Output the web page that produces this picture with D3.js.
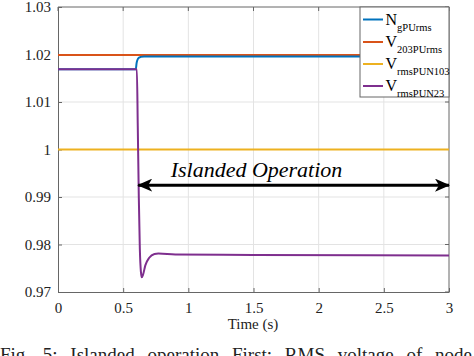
<!DOCTYPE html>
<html><head><meta charset="utf-8">
<script src="https://cdn.jsdelivr.net/npm/d3@7"></script>
<style>body{margin:0;background:#fff;}svg{display:block;}svg text{font-family:"Times New Roman","Liberation Serif","DejaVu Serif",serif !important;}</style>
</head><body>
<svg id="c" width="474" height="356"></svg>
<script>
const xTicks = [0, 0.5, 1, 1.5, 2, 2.5, 3];
const xTickLabels = ["0", "0.5", "1", "1.5", "2", "2.5", "3"];
const yTicks = [0.97, 0.98, 0.99, 1, 1.01, 1.02, 1.03];
const yTickLabels = ["0.97", "0.98", "0.99", "1", "1.01", "1.02", "1.03"];

const seriesNames = ["N", "V", "V", "V"];
const seriesSubs = ["gPUrms", "203PUrms", "rmsPUN103", "rmsPUN23"];
const seriesColors = ["#0072BD", "#D95319", "#EDB120", "#7E2F8E"];

const tN = [0, 0.597, 0.603, 0.61, 0.62, 0.635, 0.66, 0.7, 1.0, 3];
const vN = [1.0169, 1.0169, 1.0182, 1.0189, 1.0193, 1.0195, 1.0196, 1.0196, 1.0196, 1.0196];
const tV203 = [0, 3];
const vV203 = [1.0199, 1.0199];
const tN103 = [0, 3];
const vN103 = [1.0, 1.0];
const tN23 = [0, 0.605, 0.612, 0.62, 0.628, 0.636, 0.643, 0.652, 0.67, 0.7, 0.74, 0.77, 0.9, 1.5, 3];
const vN23 = [1.0169, 1.0169, 1.005, 0.99, 0.979, 0.9743, 0.9731, 0.9736, 0.9756, 0.9772, 0.978, 0.9781, 0.9779, 0.9778, 0.9777];

const arrowStart = 0.615, arrowEnd = 3, arrowLevel = 0.9925;
const annotation = "Islanded Operation";
const xLabel = "Time (s)";
const caption = "Fig. 5: Islanded operation First: RMS voltage of node s";

const FONT = '"Times New Roman","Liberation Serif","DejaVu Serif",serif';
const svg = d3.select("#c").attr("font-family", FONT);
const L = 58, R = 449, T = 7, B = 292;
const x = d3.scaleLinear().domain([0, 3]).range([L, R]);
const y = d3.scaleLinear().domain([0.97, 1.03]).range([B, T]);

// grid
const g = svg.append("g");
g.selectAll(".gx").data(xTicks.slice(1, -1)).join("line")
  .attr("x1", d => x(d)).attr("x2", d => x(d)).attr("y1", T).attr("y2", B)
  .attr("stroke", "#e3e3e3").attr("stroke-width", 1);
g.selectAll(".gy").data(yTicks.slice(1, -1)).join("line")
  .attr("y1", d => y(d)).attr("y2", d => y(d)).attr("x1", L).attr("x2", R)
  .attr("stroke", "#e3e3e3").attr("stroke-width", 1);

// axes
const xAxis = d3.axisBottom(x).tickValues(xTicks).tickFormat((d, i) => xTickLabels[i]).tickSizeInner(-4).tickSizeOuter(0).tickPadding(10);
const yAxis = d3.axisLeft(y).tickValues(yTicks).tickFormat((d, i) => yTickLabels[i]).tickSizeInner(-4).tickSizeOuter(0).tickPadding(7);
const gx = svg.append("g").attr("transform", `translate(0,${B})`).call(xAxis);
const gy = svg.append("g").attr("transform", `translate(${L},0)`).call(yAxis);
[gx, gy].forEach(a => {
  a.attr("font-family", FONT).attr("font-size", 15);
  a.selectAll("text").attr("fill", "#222");
  a.selectAll("line").attr("stroke", "#666");
  a.select(".domain").attr("stroke", "#666");
});
// top/right box
svg.append("line").attr("x1", L).attr("x2", R).attr("y1", T).attr("y2", T).attr("stroke", "#666");
svg.append("line").attr("x1", R).attr("x2", R).attr("y1", T).attr("y2", B).attr("stroke", "#666");
svg.append("g").selectAll("line").data(xTicks).join("line")
  .attr("x1", d => x(d)).attr("x2", d => x(d)).attr("y1", T).attr("y2", T + 4).attr("stroke", "#666");
svg.append("g").selectAll("line").data(yTicks).join("line")
  .attr("y1", d => y(d)).attr("y2", d => y(d)).attr("x1", R).attr("x2", R - 4).attr("stroke", "#666");

// lines
const line = d3.line().x(d => x(d[0])).y(d => y(d[1])).curve(d3.curveMonotoneX);
const series = [[tN, vN], [tV203, vV203], [tN103, vN103], [tN23, vN23]];
const drawOrder = [2, 1, 0, 3];
drawOrder.forEach(i => {
  const [t, v] = series[i];
  svg.append("path").datum(t.map((tt, k) => [tt, v[k]]))
    .attr("d", line).attr("fill", "none").attr("stroke", seriesColors[i]).attr("stroke-width", 2);
});

// arrow
const defs = svg.append("defs");
defs.append("marker").attr("id", "ah").attr("viewBox", "0 0 15 13").attr("refX", 14).attr("refY", 6.5)
  .attr("markerWidth", 15).attr("markerHeight", 13).attr("markerUnits", "userSpaceOnUse").attr("orient", "auto-start-reverse")
  .append("path").attr("d", "M0,0 L15,6.5 L0,13 L4,6.5 Z").attr("fill", "#000");
svg.append("line").attr("x1", x(arrowStart)).attr("x2", x(arrowEnd)).attr("y1", y(arrowLevel)).attr("y2", y(arrowLevel))
  .attr("stroke", "#000").attr("stroke-width", 3)
  .attr("marker-start", "url(#ah)").attr("marker-end", "url(#ah)");
svg.append("text").attr("x", 256.5).attr("y", 177).attr("text-anchor", "middle")
  .attr("font-size", 22).attr("font-style", "italic").attr("fill", "#000").text(annotation);

// legend
const lg = svg.append("g");
lg.append("rect").attr("x", 360).attr("y", T).attr("width", R - 360).attr("height", 90)
  .attr("fill", "#fff").attr("stroke", "#666").attr("stroke-width", 1);
const ly = [19.5, 42, 64, 86];
seriesNames.forEach((n, i) => {
  lg.append("line").attr("x1", 363).attr("x2", 383).attr("y1", ly[i]).attr("y2", ly[i])
    .attr("stroke", seriesColors[i]).attr("stroke-width", 2);
  const tx = lg.append("text").attr("x", 385.5).attr("y", ly[i] + 5).attr("font-size", 16).attr("fill", "#000");
  tx.append("tspan").text(n);
  tx.append("tspan").attr("dy", 6).attr("font-size", 10.5).text(seriesSubs[i]);
});

// labels
svg.append("text").attr("x", 253).attr("y", 329).attr("text-anchor", "middle").attr("font-size", 15).attr("fill", "#222").text(xLabel);
svg.append("text").attr("x", 0).attr("y", 361).attr("font-size", 19).attr("word-spacing", 8).attr("fill", "#222").text(caption);
</script>
</body></html>
